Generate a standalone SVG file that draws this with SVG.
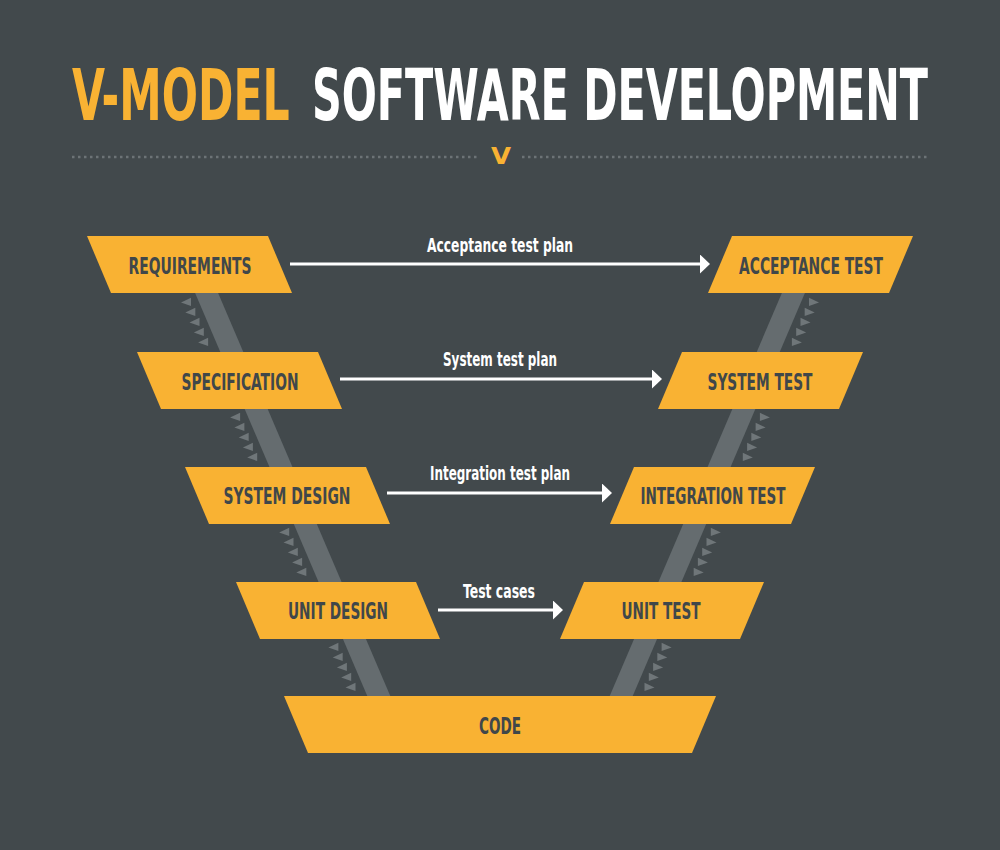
<svg xmlns="http://www.w3.org/2000/svg" xmlns:xlink="http://www.w3.org/1999/xlink" width="1000" height="850" viewBox="0 0 1000 850">
  <style>
    .bg { fill: #42494c; }
    .node { fill: #f9b233; }
    .ntext { font-family: "DejaVu Sans Condensed", "Liberation Sans", sans-serif; font-weight: bold; font-size: 23px; fill: #40474a; text-anchor: middle; }
    .label { font-family: "DejaVu Sans Condensed", "Liberation Sans", sans-serif; font-weight: bold; font-size: 19px; fill: #ffffff; text-anchor: middle; }
    .title { font-family: "DejaVu Sans Condensed", "Liberation Sans", sans-serif; font-weight: bold; font-size: 72px; }
    .bar { fill: #656c6f; }
    .tri { fill: #6f7679; }
    .conn { stroke: #ffffff; stroke-width: 3; fill: none; }
    .dots { stroke: #6c7376; stroke-width: 2.5; stroke-dasharray: 2.5 3.5; fill: none; }
  </style>
  <defs>
    <marker id="arrow" viewBox="0 0 10 19" refX="4" refY="9.5" markerWidth="10" markerHeight="19" markerUnits="userSpaceOnUse" orient="auto">
      <path d="M0,0 L10,9.5 L0,19 Z" fill="#ffffff"/>
    </marker>
    <polygon id="tl" points="-6,0.5 4,-4.2 4,4"/>
    <polygon id="tr" points="6,0.5 -4,-4.2 -4,4"/>
  </defs>

  <rect class="bg" x="0" y="0" width="1000" height="850"/>

  <g id="title">
    <text class="title" transform="translate(72,120) scale(0.7,1)" x="0" y="0" fill="#f9b233" textLength="311" lengthAdjust="spacingAndGlyphs">V-MODEL</text>
    <text class="title" transform="translate(312,120) scale(0.7,1)" x="0" y="0" fill="#ffffff" textLength="880" lengthAdjust="spacingAndGlyphs">SOFTWARE DEVELOPMENT</text>
    <line class="dots" x1="72" y1="157" x2="479" y2="157"/>
    <line class="dots" x1="522" y1="157" x2="928" y2="157"/>
    <text x="501" y="164" font-family="DejaVu Sans Condensed, Liberation Sans, sans-serif" font-weight="bold" font-size="23" fill="#f9b233" text-anchor="middle" textLength="20" lengthAdjust="spacingAndGlyphs">V</text>
  </g>

  <g id="bars">
    <polygon class="bar" points="181,260 204,260 392,700 369,700"/>
    <polygon class="bar" points="819,260 796,260 608,700 631,700"/>
  </g>

  <g id="ticks" class="tri">
    <use xlink:href="#tl" x="187" y="302"/>
    <use xlink:href="#tl" x="191.3" y="312"/>
    <use xlink:href="#tl" x="195.5" y="322"/>
    <use xlink:href="#tl" x="199.8" y="332"/>
    <use xlink:href="#tl" x="204.1" y="342"/>
    <use xlink:href="#tl" x="236.1" y="417"/>
    <use xlink:href="#tl" x="240.4" y="427"/>
    <use xlink:href="#tl" x="244.7" y="437"/>
    <use xlink:href="#tl" x="248.9" y="447"/>
    <use xlink:href="#tl" x="253.2" y="457"/>
    <use xlink:href="#tl" x="285.2" y="532"/>
    <use xlink:href="#tl" x="289.5" y="542"/>
    <use xlink:href="#tl" x="293.8" y="552"/>
    <use xlink:href="#tl" x="298.1" y="562"/>
    <use xlink:href="#tl" x="302.3" y="572"/>
    <use xlink:href="#tl" x="334.4" y="647"/>
    <use xlink:href="#tl" x="338.7" y="657"/>
    <use xlink:href="#tl" x="342.9" y="667"/>
    <use xlink:href="#tl" x="347.2" y="677"/>
    <use xlink:href="#tl" x="351.5" y="687"/>

    <use xlink:href="#tr" x="813" y="302"/>
    <use xlink:href="#tr" x="808.7" y="312"/>
    <use xlink:href="#tr" x="804.5" y="322"/>
    <use xlink:href="#tr" x="800.2" y="332"/>
    <use xlink:href="#tr" x="795.9" y="342"/>
    <use xlink:href="#tr" x="763.9" y="417"/>
    <use xlink:href="#tr" x="759.6" y="427"/>
    <use xlink:href="#tr" x="755.3" y="437"/>
    <use xlink:href="#tr" x="751.1" y="447"/>
    <use xlink:href="#tr" x="746.8" y="457"/>
    <use xlink:href="#tr" x="714.8" y="532"/>
    <use xlink:href="#tr" x="710.5" y="542"/>
    <use xlink:href="#tr" x="706.2" y="552"/>
    <use xlink:href="#tr" x="701.9" y="562"/>
    <use xlink:href="#tr" x="697.7" y="572"/>
    <use xlink:href="#tr" x="665.6" y="647"/>
    <use xlink:href="#tr" x="661.3" y="657"/>
    <use xlink:href="#tr" x="657.1" y="667"/>
    <use xlink:href="#tr" x="652.8" y="677"/>
    <use xlink:href="#tr" x="648.5" y="687"/>
  </g>

  <g id="connectors">
    <line class="conn" x1="290" y1="264" x2="704" y2="264" marker-end="url(#arrow)"/>
    <line class="conn" x1="340" y1="379" x2="656" y2="379" marker-end="url(#arrow)"/>
    <line class="conn" x1="387" y1="493" x2="606" y2="493" marker-end="url(#arrow)"/>
    <line class="conn" x1="438" y1="610" x2="557" y2="610" marker-end="url(#arrow)"/>
    <text class="label" x="500" y="252" textLength="146" lengthAdjust="spacingAndGlyphs">Acceptance test plan</text>
    <text class="label" x="500" y="366" textLength="114" lengthAdjust="spacingAndGlyphs">System test plan</text>
    <text class="label" x="500" y="480" textLength="140" lengthAdjust="spacingAndGlyphs">Integration test plan</text>
    <text class="label" x="499" y="598" textLength="72" lengthAdjust="spacingAndGlyphs">Test cases</text>
  </g>

  <g id="requirements">
    <polygon class="node" points="87,236 268,236 292,293 111,293"/>
    <text class="ntext" x="190" y="274" textLength="123" lengthAdjust="spacingAndGlyphs">REQUIREMENTS</text>
  </g>
  <g id="acceptance-test">
    <polygon class="node" points="732,236 913,236 889,293 708,293"/>
    <text class="ntext" x="811" y="274" textLength="144" lengthAdjust="spacingAndGlyphs">ACCEPTANCE TEST</text>
  </g>
  <g id="specification">
    <polygon class="node" points="137,352 318,352 342,409 161,409"/>
    <text class="ntext" x="240" y="390" textLength="117" lengthAdjust="spacingAndGlyphs">SPECIFICATION</text>
  </g>
  <g id="system-test">
    <polygon class="node" points="682,352 863,352 839,409 658,409"/>
    <text class="ntext" x="760" y="390" textLength="105" lengthAdjust="spacingAndGlyphs">SYSTEM TEST</text>
  </g>
  <g id="system-design">
    <polygon class="node" points="185,467 366,467 390,524 209,524"/>
    <text class="ntext" x="287" y="504" textLength="127" lengthAdjust="spacingAndGlyphs">SYSTEM DESIGN</text>
  </g>
  <g id="integration-test">
    <polygon class="node" points="634,467 815,467 791,524 610,524"/>
    <text class="ntext" x="713" y="504" textLength="145" lengthAdjust="spacingAndGlyphs">INTEGRATION TEST</text>
  </g>
  <g id="unit-design">
    <polygon class="node" points="236,582 416,582 440,639 260,639"/>
    <text class="ntext" x="338" y="619" textLength="100" lengthAdjust="spacingAndGlyphs">UNIT DESIGN</text>
  </g>
  <g id="unit-test">
    <polygon class="node" points="584,582 764,582 740,639 560,639"/>
    <text class="ntext" x="661" y="619" textLength="79" lengthAdjust="spacingAndGlyphs">UNIT TEST</text>
  </g>
  <g id="code">
    <polygon class="node" points="284,696 716,696 692,753 308,753"/>
    <text class="ntext" x="500" y="734" textLength="42" lengthAdjust="spacingAndGlyphs">CODE</text>
  </g>
</svg>
